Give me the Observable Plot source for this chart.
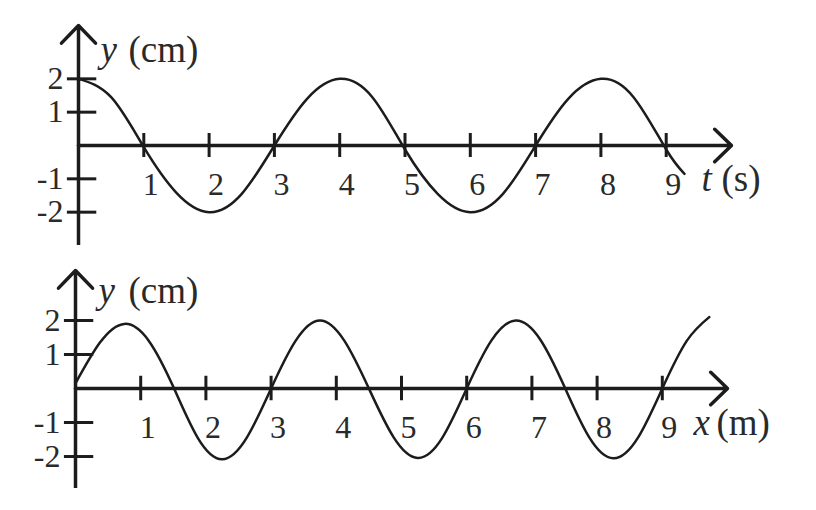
<!DOCTYPE html>
<html>
<head>
<meta charset="utf-8">
<script src="https://cdn.jsdelivr.net/npm/d3@7"></script>
<script src="https://cdn.jsdelivr.net/npm/@observablehq/plot@0.6"></script>
<style>
  html, body { margin: 0; padding: 0; background: #fff; }
  #chart { width: 816px; }
</style>
</head>
<body>
<div id="chart"></div>
<script>
// Tick values
const tTicks = [1, 2, 3, 4, 5, 6, 7, 8, 9];
const xTicks = [1, 2, 3, 4, 5, 6, 7, 8, 9];
const yTicks = [-2, -1, 1, 2];

// Top panel: displacement vs time
const topT = [0, 0.5, 1, 1.5, 2, 2.5, 3, 3.5, 4, 4.5, 5, 5.5, 6, 6.5, 7, 7.5, 8, 8.5, 9, 9.28];
const topY = [2, 1.45, -0.05, -1.42, -2, -1.45, 0, 1.4, 2, 1.45, -0.12, -1.45, -2, -1.45, 0, 1.4, 2, 1.45, -0.12, -0.85];

// Bottom panel: displacement vs position
const botX = [0, 0.375, 0.75, 1.125, 1.5, 1.875, 2.25, 2.625, 3, 3.375, 3.75, 4.125, 4.5, 4.875, 5.25, 5.625, 6, 6.375, 6.75, 7.125, 7.5, 7.875, 8.25, 8.625, 9, 9.375, 9.72];
const botY = [0.15, 1.35, 1.9, 1.4, 0.05, -1.45, -2.08, -1.45, 0, 1.4, 2, 1.4, 0, -1.42, -2.04, -1.45, 0, 1.4, 2, 1.45, 0.05, -1.42, -2.05, -1.45, 0, 1.4, 2.1];

// Axis extents
const topXDomain = [0, 10];
const topYDomain = [-3, 3.6];
const botXDomain = [0, 10];
const botYDomain = [-2.94, 3.47];

const FONT = "Liberation Serif, Times New Roman, serif";
const INK = "#1c1c1c";
const TXT = "#2a2a2a";

function panel({xs, ys, xDomain, yDomain, ticks, varName, unit, margins, labelDy, yDx, cmDx, varDx, unitDx, axisLabelDy}) {
  const data = xs.map((x, i) => ({x, y: ys[i]}));
  const xAxis = [{x1: xDomain[0], y1: 0, x2: xDomain[1], y2: 0}];
  const yAxisLine = [{x: 0, y1: yDomain[0], y2: 0}];
  const yArrow = [{x1: 0, y1: 0, x2: 0, y2: yDomain[1]}];
  return Plot.plot({
    width: 816,
    height: 255,
    ...margins,
    x: {domain: xDomain, axis: null},
    y: {domain: yDomain, axis: null},
    style: {fontFamily: FONT, background: "#fff"},
    marks: [
      // y axis (lower part plain, upper part with arrowhead)
      Plot.ruleX(yAxisLine, {x: "x", y1: "y1", y2: "y2", stroke: INK, strokeWidth: 3.5}),
      Plot.arrow(yArrow, {x1: "x1", y1: "y1", x2: "x2", y2: "y2", stroke: INK, strokeWidth: 3.5, headAngle: 88, headLength: 10.5}),
      // x axis with arrowhead
      Plot.arrow(xAxis, {x1: "x1", y1: "y1", x2: "x2", y2: "y2", stroke: INK, strokeWidth: 3.5, headAngle: 88, headLength: 10}),
      // x ticks
      Plot.ruleX(ticks, {x: d => d, y1: -0.36, y2: 0.36, stroke: INK, strokeWidth: 3}),
      // y ticks
      Plot.ruleY(yTicks, {y: d => d, x1: -0.17, x2: 0.28, stroke: INK, strokeWidth: 3}),
      // x tick labels
      Plot.text(ticks, {x: d => d, y: 0, text: d => String(d), dx: 7, dy: 39, fontSize: 32, fill: TXT}),
      // y tick labels
      Plot.text(yTicks, {x: 0, y: d => d, text: d => String(d), dx: -15, textAnchor: "end", fontSize: 32, fill: TXT}),
      // curve
      Plot.line(data, {x: "x", y: "y", curve: "natural", stroke: INK, strokeWidth: 2.5}),
      // y-axis label
      Plot.text(["y"], {frameAnchor: "top-left", lineAnchor: "middle", dx: yDx, dy: labelDy, textAnchor: "start", fontStyle: "italic", fontSize: 37, fill: TXT}),
      Plot.text(["(cm)"], {frameAnchor: "top-left", lineAnchor: "middle", dx: cmDx, dy: labelDy, textAnchor: "start", fontSize: 37, fill: TXT, letterSpacing: "2px"}),
      // x-axis label
      Plot.text([varName], {x: xDomain[1], y: 0, dx: varDx, dy: axisLabelDy, textAnchor: "start", fontStyle: "italic", fontSize: 37, fill: TXT}),
      Plot.text([unit], {x: xDomain[1], y: 0, dx: unitDx, dy: axisLabelDy, textAnchor: "start", fontSize: 37, fill: TXT, letterSpacing: "1px"})
    ]
  });
}

const chart = document.getElementById("chart");
chart.appendChild(panel({
  xs: topT, ys: topY, xDomain: topXDomain, yDomain: topYDomain, ticks: tTicks,
  varName: "t", unit: "(s)", labelDy: 25, yDx: 22, cmDx: 50, varDx: -30, unitDx: -10, axisLabelDy: 34,
  margins: {marginLeft: 78, marginRight: 85, marginTop: 25, marginBottom: 10}
}));
chart.appendChild(panel({
  xs: botX, ys: botY, xDomain: botXDomain, yDomain: botYDomain, ticks: xTicks,
  varName: "x", unit: "(m)", labelDy: 21, yDx: 23, cmDx: 53, varDx: -34, unitDx: -11, axisLabelDy: 35,
  margins: {marginLeft: 75, marginRight: 89, marginTop: 15, marginBottom: 22}
}));
</script>
</body>
</html>
